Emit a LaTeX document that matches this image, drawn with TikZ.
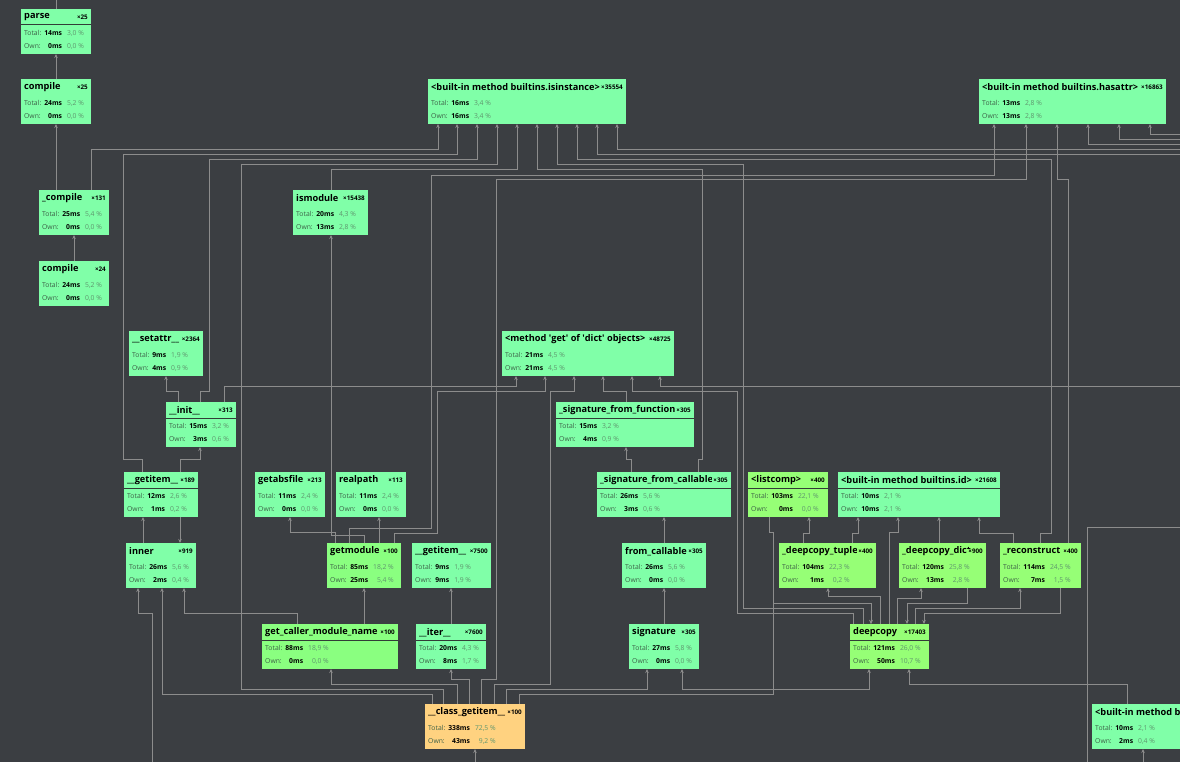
\documentclass[tikz,border=0pt]{standalone}
\usepackage{fontspec}
\usepackage{array}
\setmainfont{Open Sans}
\usetikzlibrary{arrows.meta,calc}

\definecolor{bg}{RGB}{59,62,66}
\definecolor{mint}{RGB}{128,255,168}
\definecolor{lime}{RGB}{138,255,128}
\definecolor{limer}{RGB}{150,255,118}
\definecolor{amber}{RGB}{255,210,128}
\definecolor{wirec}{RGB}{140,140,140}
\definecolor{sepc}{RGB}{50,60,55}
\definecolor{lbl}{RGB}{60,95,70}
\definecolor{pct}{RGB}{95,150,110}

\pgfdeclarelayer{canvas}
\pgfdeclarelayer{edges}
\pgfsetlayers{canvas,edges,main}

% one profiler box: name, fill, options, title, count, total, total %, own, own %
\newcommand\fn[9]{%
  \node[fn, fill=#2, #3] (#1) {};
  \node[ftitle] (#1-t) at ([shift={(3,8.5)}]#1.north west) {#4};
  \node[fcount, fill=#2] (#1-c) at ([shift={(-2,8.5)}]#1.north east) {×#5};
  \node[frows] (#1-r) at ([shift={(3,30.5)}]#1.north west)
    {\begin{tabular}{@{}>{\color{lbl}}l@{\hspace{3pt}}>{\bfseries}r@{\hspace{5pt}}>{\color{pct}}r@{}}
      Total: & #6 & #7 \%\\ Own: & #8 & #9 \%\end{tabular}};}

\begin{document}
\begin{tikzpicture}[x=1pt, y=-1pt,
    fn/.style={anchor=north west, inner sep=0pt, outer sep=0pt, minimum height=45pt},
    splitbar/.style={path picture={\draw[line width=1pt, sepc]
      ([yshift=-16pt]path picture bounding box.north west) -- ([yshift=-16pt]path picture bounding box.north east);}},
    ftitle/.style={anchor=west, inner sep=0pt, font=\fontsize{9.2}{11}\selectfont\bfseries},
    fcount/.style={anchor=east, inner xsep=1pt, inner ysep=0.5pt, font=\fontsize{6.3}{8}\selectfont\bfseries},
    frows/.style={anchor=west, inner sep=0pt, font=\fontsize{6.8}{8.5}\selectfont\renewcommand\arraystretch{1.47}},
    call/.style={draw=wirec, line width=0.8pt, -{Stealth[length=4pt, width=3.5pt]}},
    both/.style={call, {Stealth[length=4pt, width=3.5pt]}-{Stealth[length=4pt, width=3.5pt]}},
    wire/.style={draw=wirec, line width=0.8pt}]

    \useasboundingbox (0,0) rectangle (1180,762);
    \begin{pgfonlayer}{canvas}
      \fill[bg] (0,0) rectangle (1180,762);
    \end{pgfonlayer}
    \clip (0,0) rectangle (1180,762);

    % Boxes
    \fn{parse}{mint}{at={(21,9)}, minimum width=70pt, splitbar}{parse}{25}{14ms}{3,0}{0ms}{0,0}
    \fn{compile}{mint}{at={(21,79)}, minimum width=70pt}{compile}{25}{24ms}{5,2}{0ms}{0,0}
    \fn{cmp}{mint}{at={(39,190)}, minimum width=70pt}{\_compile}{131}{25ms}{5,4}{0ms}{0,0}
    \fn{cmp24}{mint}{at={(39,261)}, minimum width=70pt}{compile}{24}{24ms}{5,2}{0ms}{0,0}
    \fn{isin}{mint}{at={(428,79)}, minimum width=198pt}{<built-in method builtins.isinstance>}{35554}{16ms}{3,4}{16ms}{3,4}
    \fn{hasattr}{mint}{at={(979,79)}, minimum width=187pt}{<built-in method builtins.hasattr>}{16863}{13ms}{2,8}{13ms}{2,8}
    \fn{ismodule}{mint}{at={(293,190)}, minimum width=75pt}{ismodule}{15438}{20ms}{4,3}{13ms}{2,8}
    \fn{setattr}{mint}{at={(129,331)}, minimum width=74pt}{\_\_setattr\_\_}{2364}{9ms}{1,9}{4ms}{0,9}
    \fn{init}{mint}{at={(166,402)}, minimum width=70pt, splitbar}{\_\_init\_\_}{313}{15ms}{3,2}{3ms}{0,6}
    \fn{getdict}{mint}{at={(502,331)}, minimum width=172pt}{<method \textquotesingle get\textquotesingle\ of \textquotesingle dict\textquotesingle\ objects>}{48725}{21ms}{4,5}{21ms}{4,5}
    \fn{sigfunc}{mint}{at={(556,402)}, minimum width=138pt, splitbar}{\_signature\_from\_function}{305}{15ms}{3,2}{4ms}{0,9}
    \fn{giA}{mint}{at={(124,472)}, minimum width=74pt, splitbar}{\_\_getitem\_\_}{189}{12ms}{2,6}{1ms}{0,2}
    \fn{getabsfile}{mint}{at={(255,472)}, minimum width=70pt}{getabsfile}{213}{11ms}{2,4}{0ms}{0,0}
    \fn{realpath}{mint}{at={(336,472)}, minimum width=70pt}{realpath}{113}{11ms}{2,4}{0ms}{0,0}
    \fn{sigcall}{mint}{at={(597,472)}, minimum width=134pt, splitbar}{\_signature\_from\_callable}{305}{26ms}{5,6}{3ms}{0,6}
    \fn{listcomp}{limer}{at={(748,472)}, minimum width=80pt, splitbar}{<listcomp>}{400}{103ms}{22,1}{0ms}{0,0}
    \fn{bid}{mint}{at={(838,472)}, minimum width=162pt, splitbar}{<built-in method builtins.id>}{21608}{10ms}{2,1}{10ms}{2,1}
    \fn{inner}{mint}{at={(126,543)}, minimum width=70pt}{inner}{919}{26ms}{5,6}{2ms}{0,4}
    \fn{getmodule}{lime}{at={(327,543)}, minimum width=74pt}{getmodule}{100}{85ms}{18,2}{25ms}{5,4}
    \fn{giB}{mint}{at={(412,543)}, minimum width=79pt}{\_\_getitem\_\_}{7500}{9ms}{1,9}{9ms}{1,9}
    \fn{fromcall}{mint}{at={(622,543)}, minimum width=84pt}{from\_callable}{305}{26ms}{5,6}{0ms}{0,0}
    \fn{dctuple}{limer}{at={(779,543)}, minimum width=97pt}{\_deepcopy\_tuple}{400}{104ms}{22,3}{1ms}{0,2}
    \fn{dcdict}{limer}{at={(899,543)}, minimum width=87pt}{\_deepcopy\_dict}{900}{120ms}{25,8}{13ms}{2,8}
    \fn{recon}{limer}{at={(1000,543)}, minimum width=81pt}{\_reconstruct}{400}{114ms}{24,5}{7ms}{1,5}
    \fn{gcmn}{lime}{at={(262,624)}, minimum width=136pt, splitbar}{get\_caller\_module\_name}{100}{88ms}{18,9}{0ms}{0,0}
    \fn{iter}{mint}{at={(416,624)}, minimum width=70pt, splitbar}{\_\_iter\_\_}{7600}{20ms}{4,3}{8ms}{1,7}
    \fn{signature}{mint}{at={(629,624)}, minimum width=70pt}{signature}{305}{27ms}{5,8}{0ms}{0,0}
    \fn{deepcopy}{limer}{at={(850,624)}, minimum width=79pt, splitbar}{deepcopy}{17403}{121ms}{26,0}{50ms}{10,7}
    \fn{cgi}{amber}{at={(425,704)}, minimum width=100pt}{\_\_class\_getitem\_\_}{100}{338ms}{72,5}{43ms}{9,2}
    \node[fn, fill=mint, at={(1092,704)}, minimum width=100pt] (bhid) {};
    \node[ftitle] (bhid-t) at ([shift={(3,8.5)}]bhid.north west) {<built-in method bu};
    \node[frows] (bhid-r) at ([shift={(3,30.5)}]bhid.north west)
      {\begin{tabular}{@{}>{\color{lbl}}l@{\hspace{3pt}}>{\bfseries}r@{\hspace{5pt}}>{\color{pct}}r@{}}
        Total: & 10ms & 2,1 \%\\ Own: & 2ms & 0,4 \%\end{tabular}};

    % free ends on the border
    \coordinate (top-parse) at (56,0);
    \coordinate (bot-cgi) at (475,762);
    \coordinate (bot-inner) at (152,762);
    \coordinate (bot-bhid) at (1143,762);
    \coordinate (bot-long) at (1087,762);
    \coordinate (edge-long) at (1180,527);
    \coordinate (edge-gd) at (1180,386);
    \coordinate (edge-ha1) at (1180,134);
    \coordinate (edge-ha2) at (1180,139);
    \coordinate (edge-ha3) at (1180,144);
    \coordinate (edge-is1) at (1180,149);
    \coordinate (edge-is2) at (1180,154);

    % Connections
    \begin{pgfonlayer}{edges}
    \draw[wire] (parse.north) -- (top-parse);
    \draw[call] (compile.north) -- (parse.south);
    \draw[call] ([xshift=17]cmp.north west) -- (compile.south);
    \draw[call] (cmp24.north) -- (cmp.south);
    \draw[call] ([xshift=52]cmp.north west) |- (438,149) -- ([xshift=10]isin.south west);

    \draw[call] ([xshift=18]giA.north west) |- (123,459) |- (457,154) -- ([xshift=29]isin.south west);
    \draw[call] ([xshift=56]giA.north west) |- (200,459) -- ([xshift=34]init.south west);
    \draw[call] ([xshift=34]init.north west) |- (209,391) |- (477,159) -- ([xshift=49]isin.south west);
    \draw[call] ([xshift=12]init.north west) |- (166,391) -- ([xshift=37]setattr.south west);
    \draw[call] ([xshift=58]init.north west) |- (516,386) -- ([xshift=14]getdict.south west);
    \draw[call] ([xshift=38]ismodule.north west) |- (517,169) -- ([xshift=89]isin.south west);
    \draw[call] ([xshift=17]inner.north west) -- ([xshift=19]giA.south west);
    \draw[call] ([xshift=56]giA.south west) -- ([xshift=54]inner.north west);

    \draw[call] ([xshift=7]cgi.north west) |- (162,694) -- ([xshift=36]inner.south west);
    \draw[call] ([xshift=18]cgi.north west) |- (241,689) |- (497,164) -- ([xshift=69]isin.south west);
    \draw[call] ([xshift=32]cgi.north west) |- (331,684) -- ([xshift=69]gcmn.south west);
    \draw[call] ([xshift=44]cgi.north west) |- (451,679) -- ([xshift=35]iter.south west);
    \draw[call] ([xshift=56]cgi.north west) |- (496,679) |- (1026,179) -- ([xshift=47]hasattr.south west);
    \draw[call] ([xshift=69]cgi.north west) |- (550,684) |- (574,391) -- ([xshift=72]getdict.south west);
    \draw[call] ([xshift=81]cgi.north west) |- (647,689) -- ([xshift=18]signature.south west);
    \draw[call] ([xshift=94]cgi.north west) |- (773,694) |- (871,603) -- ([xshift=21]deepcopy.north west);
    \draw[call] (bot-cgi) -- (cgi.south);

    \draw[call] (bot-inner) |- (138,613) -- ([xshift=12]inner.south west);
    \draw[call] ([xshift=35]gcmn.north west) |- (184,613) -- ([xshift=58]inner.south west);
    \draw[call] ([xshift=102]gcmn.north west) -- ([xshift=37]getmodule.south west);
    \draw[call] ([xshift=8]getmodule.north west) |- (290,532) -- ([xshift=35]getabsfile.south west);
    \draw[call] ([xshift=22]getmodule.north west) |- (431,528) |- (994,175) -- ([xshift=15]hasattr.south west);
    \draw[call] ([xshift=37]getmodule.north west) |- (331,535) -- ([xshift=38]ismodule.south west);
    \draw[call] ([xshift=52]getmodule.north west) -- ([xshift=43]realpath.south west);
    \draw[call] ([xshift=67]getmodule.north west) |- (437,533) |- (545,391) -- ([xshift=43]getdict.south west);
    \draw[call] ([xshift=35]iter.north west) -- ([xshift=39]giB.south west);

    \draw[call] ([xshift=35]signature.north west) -- ([xshift=42]fromcall.south west);
    \draw[call] (fromcall.north) -- ([xshift=67]sigcall.south west);
    \draw[call] ([xshift=34]sigcall.north west) |- (626,459) -- ([xshift=70]sigfunc.south west);
    \draw[call] ([xshift=101]sigcall.north west) |- (702,459) |- (537,169) -- ([xshift=109]isin.south west);
    \draw[call] ([xshift=70]sigfunc.north west) |- (603,391) -- ([xshift=101]getdict.south west);
    \draw[call] (edge-gd) -| ([xshift=158]getdict.south west);
    \draw[both] ([xshift=53]signature.south west) |- (869,689) -- ([xshift=19]deepcopy.south west);

    \draw[call] ([xshift=24]dctuple.north west) |- (809,533) -- ([xshift=61]listcomp.south west);
    \draw[call] ([xshift=73]dctuple.north west) |- (858,533) -- ([xshift=20]bid.south west);
    \draw[call] ([xshift=39]deepcopy.north west) |- (898,532) -- ([xshift=60]bid.south west);
    \draw[call] ([xshift=40]dcdict.north west) -- ([xshift=101]bid.south west);
    \draw[call] ([xshift=13]recon.north west) |- (979,533) -- ([xshift=141]bid.south west);
    \draw[call] ([xshift=40]recon.north west) |- (1051,533) |- (577,159) -- ([xshift=149]isin.south west);
    \draw[call] ([xshift=68]recon.north west) |- (1057,179) -- ([xshift=78]hasattr.south west);

    \draw[call] ([xshift=21]listcomp.south west) |- (773,532) |- (871,603) -- ([xshift=21]deepcopy.north west);
    \draw[call] ([xshift=68]dcdict.south west) |- (907,603) -- ([xshift=57]deepcopy.north west);
    \draw[call] ([xshift=60]recon.south west) |- (924,613) -- ([xshift=74]deepcopy.north west);
    \draw[call] ([xshift=30]deepcopy.north west) |- (828,596) -- ([xshift=49]dctuple.south west);
    \draw[call] ([xshift=47]deepcopy.north west) |- (921,598) -- ([xshift=22]dcdict.south west);
    \draw[call] ([xshift=65]deepcopy.north west) |- (1020,608) -- ([xshift=20]recon.south west);
    \draw[call] ([xshift=3]deepcopy.north west) |- (737,613) |- (632,391) -- ([xshift=130]getdict.south west);
    \draw[call] ([xshift=13]deepcopy.north west) |- (743,608) |- (557,164) -- ([xshift=129]isin.south west);
    \draw[call] ([xshift=35]bhid.north west) |- (909,684) -- ([xshift=59]deepcopy.south west);
    \draw[call] (bot-bhid) -- ([xshift=51]bhid.south west);
    \draw[wire] (edge-long) -| (bot-long);

    \draw[call] (edge-ha1) -| ([xshift=171]hasattr.south west);
    \draw[call] (edge-ha2) -| ([xshift=140]hasattr.south west);
    \draw[call] (edge-ha3) -| ([xshift=109]hasattr.south west);
    \draw[call] (edge-is1) -| ([xshift=189]isin.south west);
    \draw[call] (edge-is2) -| ([xshift=169]isin.south west);
    \end{pgfonlayer}

\end{tikzpicture}
\end{document}
